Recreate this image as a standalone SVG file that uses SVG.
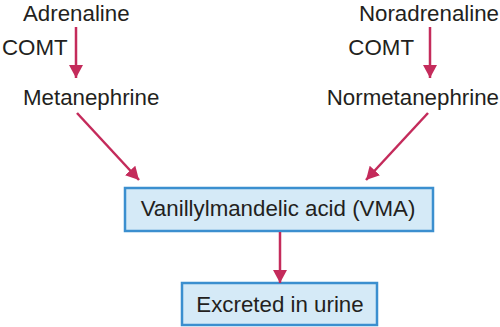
<svg xmlns="http://www.w3.org/2000/svg" width="500" height="327" viewBox="0 0 500 327">
<style>
text{font-family:"Liberation Sans",Arial,sans-serif;font-size:22.3px;fill:#231f20}
.box{fill:#d5eaf7;stroke:#3b8fcf;stroke-width:2.5}
.arr{stroke:#c42b5b;stroke-width:2.5;fill:none;marker-end:url(#ah)}
</style>
<defs>
<marker id="ah" markerUnits="userSpaceOnUse" markerWidth="14" markerHeight="14" viewBox="0 0 14 14" refX="13" refY="7" orient="auto">
<path d="M0,0 L13,7 L0,14 Z" fill="#c42b5b"/>
</marker>
</defs>
<rect width="500" height="327" fill="#ffffff"/>
<g id="adrenaline"><text x="23" y="20.5">Adrenaline</text></g>
<g id="comt-left"><text x="2" y="55">COMT</text></g>
<g id="metanephrine"><text x="23" y="105">Metanephrine</text></g>
<g id="noradrenaline"><text x="499" y="20.5" text-anchor="end">Noradrenaline</text></g>
<g id="comt-right"><text x="414" y="55" text-anchor="end">COMT</text></g>
<g id="normetanephrine"><text x="499" y="105" text-anchor="end">Normetanephrine</text></g>
<g id="vma"><rect class="box" x="125" y="188" width="308" height="43"/><text x="278" y="216" text-anchor="middle">Vanillylmandelic acid (VMA)</text></g>
<g id="urine"><rect class="box" x="182" y="283" width="195" height="42"/><text x="280" y="312" text-anchor="middle">Excreted in urine</text></g>
<g id="connectors">
<line class="arr" x1="76" y1="27" x2="76" y2="78"/>
<line class="arr" x1="430" y1="27" x2="430" y2="78"/>
<line class="arr" x1="77" y1="113" x2="139" y2="180"/>
<line class="arr" x1="428" y1="113" x2="366" y2="180"/>
<line class="arr" x1="280" y1="232" x2="280" y2="283"/>
</g>
</svg>
